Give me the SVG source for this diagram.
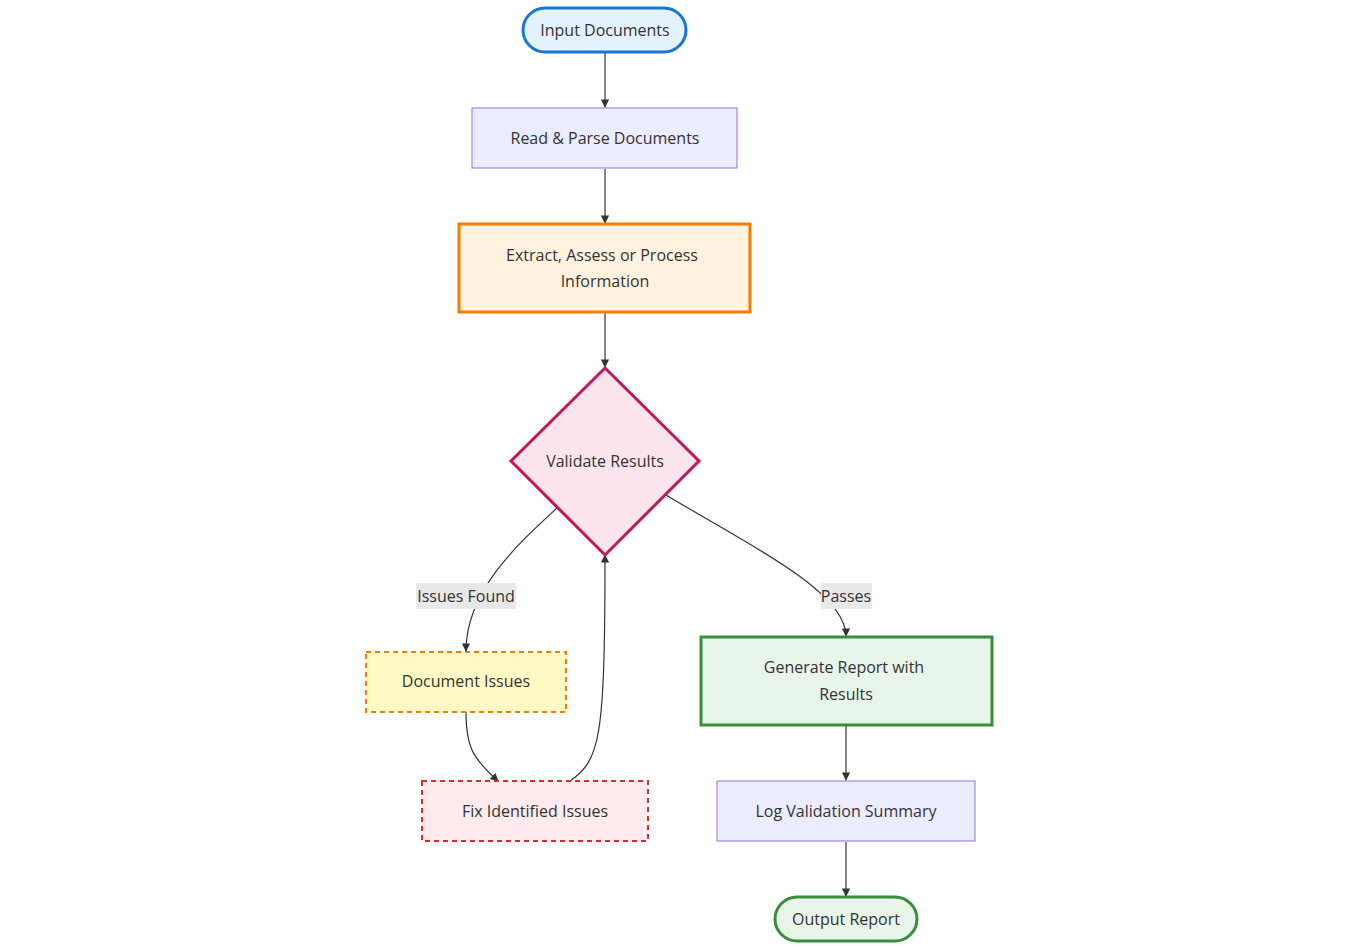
<svg xmlns="http://www.w3.org/2000/svg" width="1358" height="950" viewBox="0 0 1358 950">
<style>
text{font-family:"Open Sans","DejaVu Sans",sans-serif;font-size:16px;fill:#333;text-anchor:middle;dominant-baseline:central}
.e{fill:none;stroke:#333;stroke-width:1.2}
.lb{fill:#e8e8e8}
</style>
<defs><marker id="a" viewBox="0 0 10 10" refX="9" refY="5" markerWidth="7" markerHeight="7" orient="auto"><path d="M0,0L10,5L0,10z" fill="#333"/></marker></defs>
<rect width="1358" height="950" fill="#fff"/>
<g id="edges">
<path class="e" marker-end="url(#a)" d="M605,53V107"/>
<path class="e" marker-end="url(#a)" d="M605,169V223"/>
<path class="e" marker-end="url(#a)" d="M605,313V367"/>
<path class="e" marker-end="url(#a)" d="M557,508C520,542 466,590 466,651"/>
<path class="e" marker-end="url(#a)" d="M666,495C740,540 846,590 846,636"/>
<path class="e" marker-end="url(#a)" d="M466,712C466,750 475,760 498,781"/>
<path class="e" marker-end="url(#a)" d="M570,781C600,760 605,740 605,555"/>
<path class="e" marker-end="url(#a)" d="M846,726V780"/>
<path class="e" marker-end="url(#a)" d="M846,842V896"/>
<rect class="lb" x="416" y="583" width="100" height="26"/><text x="466" y="596">Issues Found</text>
<rect class="lb" x="821" y="583" width="51" height="26"/><text x="846" y="596">Passes</text>
</g>
<g id="n1"><rect x="523" y="8" width="163" height="44" rx="22" fill="#e3f2fd" stroke="#1976d2" stroke-width="3"/><text x="605" y="30">Input Documents</text></g>
<g id="n2"><rect x="472" y="108" width="265" height="60" fill="#ececff" stroke="#9370db"/><text x="605" y="138">Read &amp; Parse Documents</text></g>
<g id="n3"><rect x="459" y="224" width="291" height="88" fill="#fff3e0" stroke="#f57c00" stroke-width="3"/><text x="602" y="255">Extract, Assess or Process</text><text x="605" y="281">Information</text></g>
<g id="n4"><path d="M605,368L699,461L605,555L511,461z" fill="#fce4ec" stroke="#c2185b" stroke-width="3"/><text x="605" y="461">Validate Results</text></g>
<g id="n5"><rect x="366" y="652" width="200" height="60" fill="#fff9c4" stroke="#f57c00" stroke-width="2" stroke-dasharray="5,4"/><text x="466" y="681">Document Issues</text></g>
<g id="n6"><rect x="422" y="781" width="226" height="60" fill="#ffebee" stroke="#d32f2f" stroke-width="2" stroke-dasharray="5,4"/><text x="535" y="811">Fix Identified Issues</text></g>
<g id="n7"><rect x="701" y="637" width="291" height="88" fill="#e8f5e9" stroke="#388e3c" stroke-width="3"/><text x="844" y="667">Generate Report with</text><text x="846" y="694">Results</text></g>
<g id="n8"><rect x="717" y="781" width="258" height="60" fill="#ececff" stroke="#9370db"/><text x="846" y="811">Log Validation Summary</text></g>
<g id="n9"><rect x="775" y="897" width="142" height="44" rx="22" fill="#e8f5e9" stroke="#388e3c" stroke-width="3"/><text x="846" y="919">Output Report</text></g>
</svg>
